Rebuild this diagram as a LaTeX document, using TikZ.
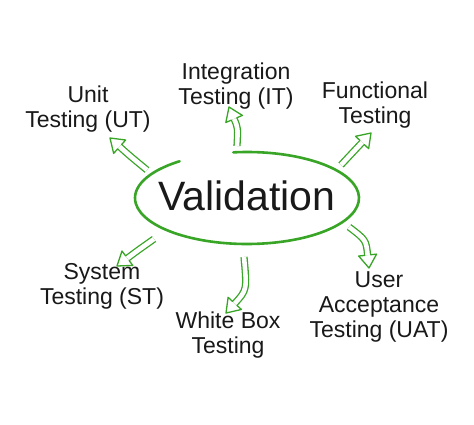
\documentclass[tikz,border=0pt]{standalone}
\usepackage{fontspec}
\setmainfont{Liberation Sans}
\usetikzlibrary{calc}
\definecolor{valgreen}{RGB}{56,165,38}
\tikzset{
  lbl/.style={align=center, inner sep=0pt, font=\fontsize{23}{25}\selectfont, text=black!90},
  shaftline/.style={draw=valgreen, line width=1.3pt, double=white, double distance=4.6pt},
  headline/.style={draw=valgreen, line width=1.3pt, line join=round, line cap=round},
}
% #1 start, #2 control, #3 tip
\newcommand{\hollowarrow}[3]{%
  \coordinate (hh) at ($(#3)!13pt!(#2)$);
  \draw[shaftline] (#1) .. controls (#2) .. (hh);
  \draw[headline] ($(hh)!2.95pt!90:(#3)$) -- ($(hh)!9pt!90:(#3)$)
    -- (#3) -- ($(hh)!9pt!-90:(#3)$) -- ($(hh)!2.95pt!-90:(#3)$);
}
\begin{document}
\begin{tikzpicture}[x=1pt,y=-1pt]
  \fill[white] (0,0) rectangle (474,424);
  \useasboundingbox (0,0) rectangle (474,424);

  % central ellipse
  \draw[valgreen, line width=2.6pt, line cap=round] (247,198) ++(263:112 and 46) arc[start angle=263, end angle=593, x radius=112, y radius=46];
  \node[inner sep=0pt, font=\fontsize{41}{41}\selectfont, text=black!90] (val) at (247,196) {Validation};

  % labels
  \node[lbl] (ut)  at (88,109)  {Unit\\Testing (UT)};
  \node[lbl] (it)  at (236,86)  {Integration\\Testing (IT)};
  \node[lbl] (ft)  at (375,105) {Functional\\Testing};
  \node[lbl] (st)  at (102,286) {System\\Testing (ST)};
  \node[lbl] (wb)  at (228,335) {White Box\\Testing};
  \node[lbl] (uat) at (379,307) {User\\Acceptance\\Testing (UAT)};

  % arrow end points and controls
  \coordinate (a1s) at (147,170); \coordinate (a1c) at (130,156); \coordinate (a1e) at (110,138);
  \coordinate (a2s) at (237,146); \coordinate (a2c) at (238,128); \coordinate (a2e) at (229,107);
  \coordinate (a3s) at (341,165); \coordinate (a3c) at (355,150); \coordinate (a3e) at (371,133);
  \coordinate (a4s) at (154,239); \coordinate (a4c) at (137,251); \coordinate (a4e) at (117,266);
  \coordinate (a5s) at (244,257); \coordinate (a5c) at (247,290); \coordinate (a5e) at (226,313);
  \coordinate (a6s) at (349,227); \coordinate (a6c) at (366,240); \coordinate (a6e) at (369,268);

  \hollowarrow{a1s}{a1c}{a1e}
  \hollowarrow{a2s}{a2c}{a2e}
  \hollowarrow{a3s}{a3c}{a3e}
  \hollowarrow{a4s}{a4c}{a4e}
  \hollowarrow{a5s}{a5c}{a5e}
  \hollowarrow{a6s}{a6c}{a6e}
\end{tikzpicture}
\end{document}
